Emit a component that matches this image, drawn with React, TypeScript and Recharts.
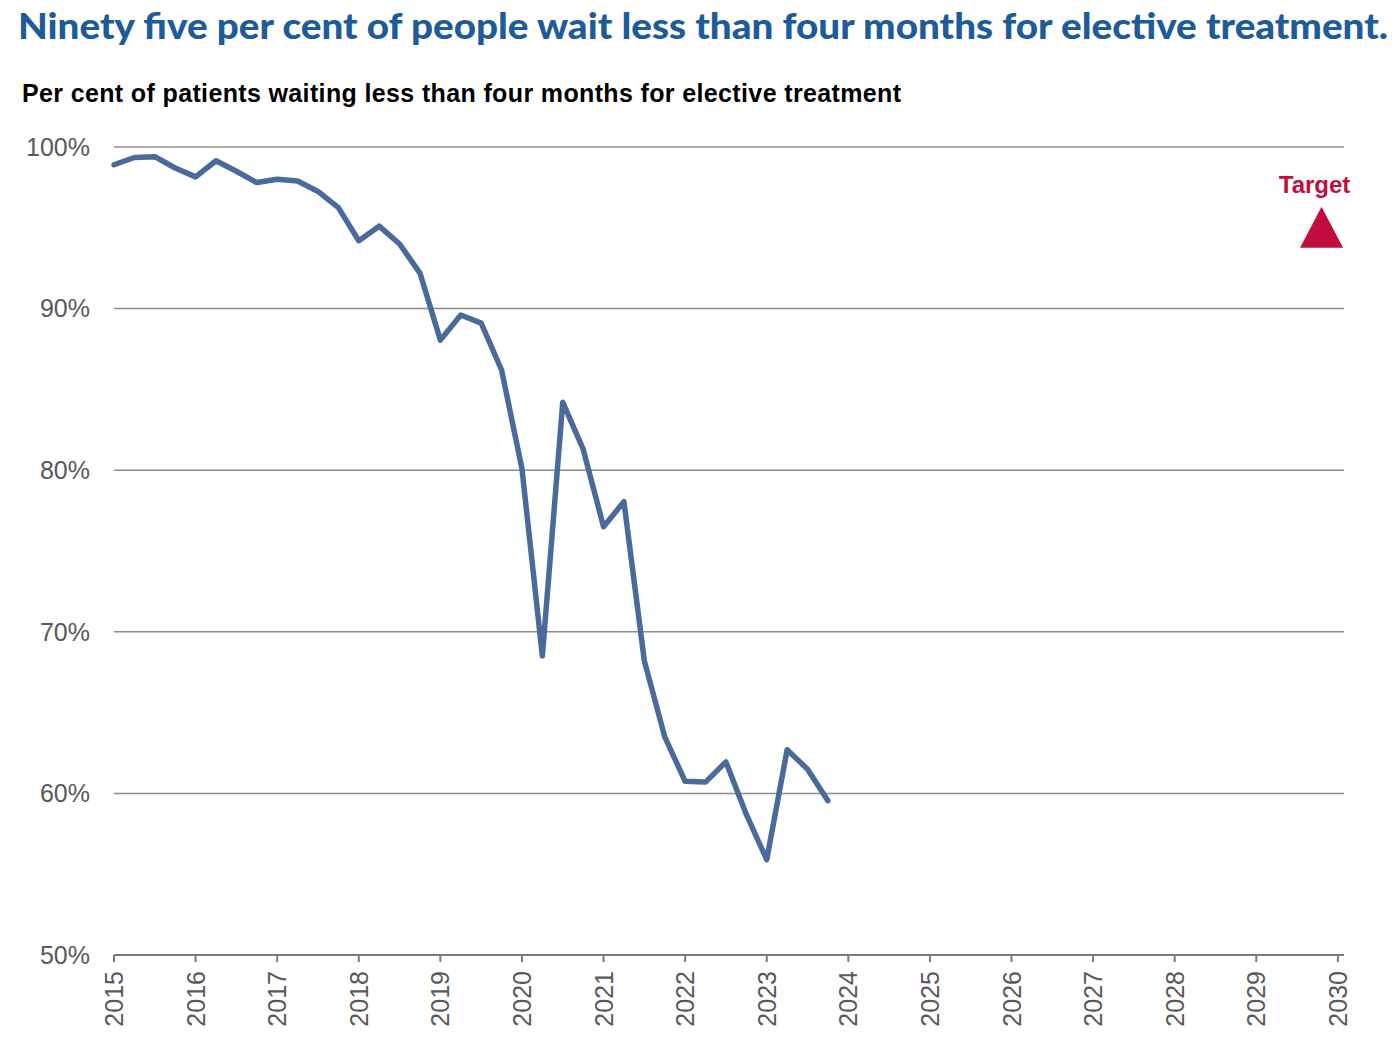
import React from 'react';
import { ComposedChart, Line, Scatter, XAxis, YAxis, CartesianGrid } from 'recharts';

const TITLE = 'Ninety five per cent of people wait less than four months for elective treatment.';
const SUBTITLE = 'Per cent of patients waiting less than four months for elective treatment';

const quarters = [
  2015, 2015.25, 2015.5, 2015.75,
  2016, 2016.25, 2016.5, 2016.75,
  2017, 2017.25, 2017.5, 2017.75,
  2018, 2018.25, 2018.5, 2018.75,
  2019, 2019.25, 2019.5, 2019.75,
  2020, 2020.25, 2020.5, 2020.75,
  2021, 2021.25, 2021.5, 2021.75,
  2022, 2022.25, 2022.5, 2022.75,
  2023, 2023.25, 2023.5, 2023.75,
];

const percentWaitingUnderFourMonths = [
  98.9, 99.35, 99.4, 98.7,
  98.15, 99.15, 98.5, 97.8,
  98.0, 97.9, 97.25, 96.25,
  94.2, 95.1, 94.0, 92.2,
  88.05, 89.6, 89.1, 86.2,
  80.1, 68.5, 84.2, 81.3,
  76.5, 78.05, 68.2, 63.5,
  60.75, 60.7, 61.95, 58.7,
  55.9, 62.7, 61.5, 59.55,
];

const yearTicks = [2015, 2016, 2017, 2018, 2019, 2020, 2021, 2022, 2023, 2024, 2025, 2026, 2027, 2028, 2029, 2030];
const percentTicks = [50, 60, 70, 80, 90, 100];

const targetYears = [2029.8];
const targetValues = [95];
const targetLabels = ['Target'];

const lineData = quarters.map((q, i) => ({ x: q, y: percentWaitingUnderFourMonths[i] }));
const targetData = targetYears.map((t, i) => ({ x: t, y: targetValues[i], label: targetLabels[i] }));

const FONT = '"Liberation Sans", Arial, Helvetica, sans-serif';
const AXIS_GREY = '#595959';

const XTick = (props: any) => {
  const { x, y, payload } = props;
  const bx = x + 9;
  const by = y + 7;
  return (
    <text
      x={bx}
      y={by}
      transform={`rotate(-90, ${bx}, ${by})`}
      textAnchor="end"
      fill={AXIS_GREY}
      fontSize={25}
      fontFamily={FONT}
    >
      {payload.value}
    </text>
  );
};

const TargetShape = (props: any) => {
  const { cx, cy, payload } = props;
  if (cx == null || cy == null) return null;
  const pts = `${cx},${cy - 21} ${cx - 21.5},${cy + 20} ${cx + 21.5},${cy + 20}`;
  return (
    <g>
      <polygon points={pts} fill="#C30C3E" />
      <text
        x={cx - 7}
        y={cy - 35}
        textAnchor="middle"
        fill="#C30C3E"
        fontSize={24}
        fontWeight="bold"
        fontFamily={FONT}
      >
        {payload.label}
      </text>
    </g>
  );
};

export default function App() {
  return (
    <div style={{ position: 'absolute', left: 0, top: 0, width: 1396, height: 1064, background: '#fff' }}>
      <svg width={1396} height={120} style={{ position: 'absolute', left: 0, top: 0 }}>
        <text
          x={18}
          y={39}
          fontSize={36}
          fontWeight={900}
          fontFamily='Lato, "Open Sans", "Liberation Sans", sans-serif'
          fill="#1E5B9A"
          textLength={1370}
          lengthAdjust="spacingAndGlyphs"
        >
          {TITLE}
        </text>
        <text
          x={22}
          y={102}
          fontSize={25}
          fontWeight="bold"
          fontFamily={FONT}
          fill="#000"
          textLength={879}
          lengthAdjust="spacing"
        >
          {SUBTITLE}
        </text>
      </svg>
      <div style={{ position: 'absolute', left: 0, top: 0 }}>
        <ComposedChart
          width={1396}
          height={1064}
          margin={{ top: 147, right: 52, bottom: 29, left: 14 }}
        >
          <CartesianGrid vertical={false} stroke="#8c8c8c" strokeWidth={1.5} />
          <XAxis
            type="number"
            dataKey="x"
            domain={[2015, 2030.075]}
            ticks={yearTicks}
            interval={0}
            height={80}
            tickSize={7}
            tickMargin={2}
            stroke="#7a7a7a"
            axisLine={{ stroke: '#7a7a7a', strokeWidth: 2 }}
            tickLine={{ stroke: '#7a7a7a', strokeWidth: 2 }}
            tick={<XTick />}
          />
          <YAxis
            type="number"
            dataKey="y"
            domain={[50, 100]}
            ticks={percentTicks}
            interval={0}
            width={100}
            axisLine={false}
            tickLine={false}
            tickSize={6}
            tickMargin={18}
            tickFormatter={(v: number) => `${v}%`}
            tick={{ fill: AXIS_GREY, fontSize: 25, fontFamily: FONT }}
          />
          <Line
            data={lineData}
            dataKey="y"
            type="linear"
            stroke="#4A6A9B"
            strokeWidth={5.5}
            dot={false}
            activeDot={false}
            strokeLinejoin="round"
            strokeLinecap="round"
            isAnimationActive={false}
          />
          <Scatter
            data={targetData}
            dataKey="y"
            shape={<TargetShape />}
            isAnimationActive={false}
          />
        </ComposedChart>
      </div>
    </div>
  );
}
